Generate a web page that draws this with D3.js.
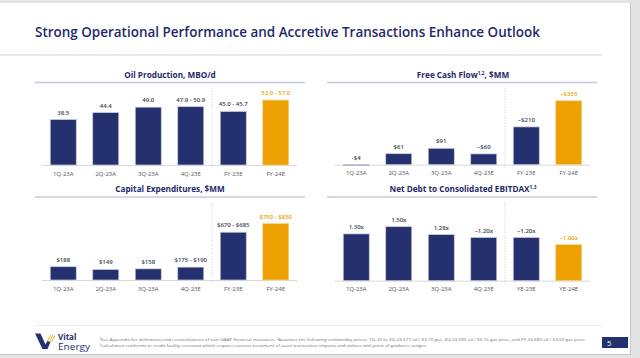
<!DOCTYPE html>
<html><head><meta charset="utf-8">
<script src="https://cdn.jsdelivr.net/npm/d3@7"></script>
<style>
html,body{margin:0;padding:0;background:#e4e4e4;}
svg{display:block;}
</style></head>
<body>
<svg id="c" width="640" height="358"></svg>
<script>
// ---------- data ----------
const oilCats = ["1Q-23A","2Q-23A","3Q-23A","4Q-23E","FY-23E","FY-24E"];
const oilValues = [38.5, 44.4, 49.0, 49.4, 45.35, 55.0];
const oilLabels = ["38.5","44.4","49.0","47.9 - 50.9","45.0 - 45.7","53.0 - 57.0"];

const fcfCats = ["1Q-23A","2Q-23A","3Q-23A","4Q-23E","FY-23E","FY-24E"];
const fcfValues = [-4, 61, 91, 60, 210, 355];
const fcfLabels = ["-$4","$61","$91","~$60","~$210","~$355"];

const capexCats = ["1Q-23A","2Q-23A","3Q-23A","4Q-23E","FY-23E","FY-24E"];
const capexValues = [188, 149, 158, 182.5, 677.5, 800];
const capexLabels = ["$188","$149","$158","$175 - $190","$670 - $685","$750 - $850"];

const debtCats = ["1Q-23A","2Q-23A","3Q-23A","4Q-23E","YE-23E","YE-24E"];
const debtValues = [1.30, 1.50, 1.28, 1.20, 1.20, 1.00];
const debtLabels = ["1.30x","1.50x","1.28x","~1.20x","~1.20x","~1.00x"];

// ---------- style ----------
const NAVY = "#25306f", ORANGE = "#eca100", TITLE = "#1f2a6b";
const FONT = "'Open Sans', 'Noto Sans', sans-serif";

const svg = d3.select("#c").style("font-family", FONT);

// page
svg.append("rect").attr("x",0).attr("y",3).attr("width",630).attr("height",351).attr("fill","#fff");
svg.append("line").attr("x1",630.5).attr("x2",630.5).attr("y1",3).attr("y2",354).attr("stroke","#c4c4c4");
svg.append("line").attr("x1",0).attr("x2",631).attr("y1",354.5).attr("y2",354.5).attr("stroke","#c4c4c4");

// main title
svg.append("text").attr("x",35).attr("y",37)
  .attr("font-size",15).attr("font-weight",600).attr("fill",TITLE)
  .attr("textLength",505).attr("lengthAdjust","spacingAndGlyphs")
  .text("Strong Operational Performance and Accretive Transactions Enhance Outlook");
svg.append("rect").attr("x",0).attr("y",54).attr("width",602).attr("height",2).attr("fill","#e8e8e8");

function panel(cfg){
  const g = svg.append("g");
  const x = d3.scaleBand().domain(cfg.cats).range(cfg.xr).paddingInner(0.388).paddingOuter(0.194);
  const y = d3.scaleLinear().domain(cfg.domain).range([cfg.base, cfg.base - cfg.h]);

  // title
  const t = g.append("text").attr("x",cfg.tx).attr("y",cfg.ty).attr("text-anchor","middle")
    .attr("font-size",8.2).attr("font-weight",700).attr("fill",TITLE);
  t.append("tspan").text(cfg.title);
  if (cfg.sup){
    t.append("tspan").attr("font-size",4.8).attr("dy",-3).text(cfg.sup);
    if (cfg.after) t.append("tspan").attr("dy",3).text(cfg.after);
  }
  g.append("line").attr("x1",cfg.ux[0]).attr("x2",cfg.ux[1]).attr("y1",cfg.uy).attr("y2",cfg.uy)
    .attr("stroke","#c5cadf").attr("stroke-width",1.3);

  // baseline
  g.append("line").attr("x1",cfg.xr[0]).attr("x2",cfg.xr[1]).attr("y1",cfg.base+0.5).attr("y2",cfg.base+0.5)
    .attr("stroke","#d9d9d9").attr("stroke-width",1);

  // separator
  const sx = (x(cfg.cats[3]) + x.bandwidth() + x(cfg.cats[4]))/2;
  g.append("line").attr("x1",sx).attr("x2",sx).attr("y1",cfg.sepY[0]).attr("y2",cfg.sepY[1])
    .attr("stroke","#c8c8c8").attr("stroke-width",0.8).attr("stroke-dasharray","1.2,1.5");

  // bars
  g.selectAll("rect.bar").data(cfg.values).join("rect").attr("class","bar")
    .attr("x",(d,i)=>x(cfg.cats[i]))
    .attr("width",x.bandwidth())
    .attr("y",d=>Math.min(y(d),y(0)))
    .attr("height",d=>Math.max(0.8,Math.abs(y(d)-y(0))))
    .attr("fill",(d,i)=> i===5?ORANGE:NAVY)
    .attr("stroke",(d,i)=> i===5?"#f5d48a":"#c9cde2").attr("stroke-width",0.7);

  // value labels
  g.selectAll("text.val").data(cfg.values).join("text").attr("class","val")
    .attr("x",(d,i)=>x(cfg.cats[i])+x.bandwidth()/2)
    .attr("y",d=>Math.min(y(d),y(0))-5)
    .attr("text-anchor","middle").attr("font-size",6).attr("font-weight",600)
    .attr("fill",(d,i)=> i===5?ORANGE:"#3d4352")
    .text((d,i)=>cfg.labels[i]);

  // category labels
  g.selectAll("text.cat").data(cfg.cats).join("text").attr("class","cat")
    .attr("x",d=>x(d)+x.bandwidth()/2)
    .attr("y",cfg.base+10.5)
    .attr("text-anchor","middle").attr("font-size",6).attr("fill","#595959")
    .text(d=>d);
}

panel({cats:oilCats, values:oilValues, labels:oilLabels, xr:[42,297], domain:[0,60], base:165, h:70.8,
  title:"Oil Production, MBO/d", tx:170, ty:78, ux:[35,305], uy:82.5, sepY:[88,168]});
panel({cats:fcfCats, values:fcfValues, labels:fcfLabels, xr:[335,590], domain:[0,400], base:164.7, h:72,
  title:"Free Cash Flow", sup:"1,2", after:", $MM", tx:463, ty:78, ux:[327,597], uy:82.5, sepY:[88,168]});
panel({cats:capexCats, values:capexValues, labels:capexLabels, xr:[42,297], domain:[0,1000], base:280, h:70.5,
  title:"Capital Expenditures, $MM", tx:170, ty:192, ux:[35,305], uy:197, sepY:[202,284]});
panel({cats:debtCats, values:debtValues, labels:debtLabels, xr:[335,590], domain:[0,2], base:280.7, h:72,
  title:"Net Debt to Consolidated EBITDAX", sup:"1,3", tx:463, ty:192, ux:[327,597], uy:197, sepY:[202,284]});

// footer
svg.append("line").attr("x1",35).attr("x2",602).attr("y1",325.5).attr("y2",325.5).attr("stroke","#ececec");
// logo mark
svg.append("path").attr("d","M35,333.5 L40.5,333.5 L47.5,349 L42.5,349 Z").attr("fill",NAVY);
svg.append("path").attr("d","M42.5,349 L47.5,349 L50.5,342 L47.5,341 Z").attr("fill",NAVY);
[[47.5,341,51,334.5],[49.5,341.5,53,335],[51.5,342,55,335.5]].forEach(p=>{
  svg.append("line").attr("x1",p[0]).attr("y1",p[1]).attr("x2",p[2]).attr("y2",p[3])
    .attr("stroke",ORANGE).attr("stroke-width",0.8);
});
svg.append("text").attr("x",58).attr("y",340).attr("font-size",8).attr("font-weight",700).attr("fill",NAVY).text("Vital");
svg.append("text").attr("x",58).attr("y",349.5).attr("font-size",8.5).attr("fill",NAVY)
  .attr("textLength",32).attr("lengthAdjust","spacingAndGlyphs").text("Energy");

svg.append("text").attr("x",99).attr("y",341).attr("font-size",4.3).attr("fill","#6f6f6f")
  .attr("textLength",487).attr("lengthAdjust","spacingAndGlyphs")
  .text("¹See Appendix for definitions and reconciliations of non-GAAP financial measures. ²Assumes the following commodity prices: 1Q-23 to 3Q-23 $77 oil / $2.70 gas, 4Q-23 $85 oil / $3.15 gas price, and FY-24 $80 oil / $3.50 gas price.");
svg.append("text").attr("x",99).attr("y",347).attr("font-size",4.3).attr("fill","#6f6f6f")
  .attr("textLength",328).attr("lengthAdjust","spacingAndGlyphs")
  .text("³Calculation conforms to credit facility covenant which requires various treatment of asset transaction impacts and utilizes mid-point of guidance ranges.");

// page number
svg.append("rect").attr("x",602).attr("y",337).attr("width",26).attr("height",11).attr("fill",NAVY);
svg.append("text").attr("x",607).attr("y",345.5).attr("font-size",7.5).attr("fill","#fff").text("5");
</script>
</body></html>
